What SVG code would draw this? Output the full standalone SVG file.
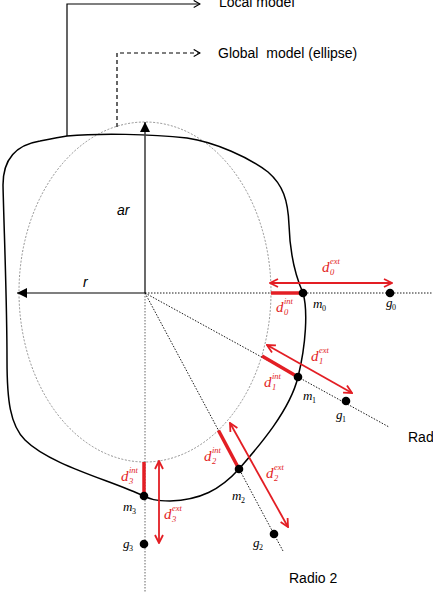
<svg xmlns="http://www.w3.org/2000/svg" width="433" height="592" viewBox="0 0 433 592">
<style>
.lbl{font-family:"Liberation Sans",Arial,sans-serif;font-size:14px;fill:#000}
.m{font-family:"Liberation Serif","Times New Roman",serif;font-style:italic;font-size:13px;fill:#000}
.sub{font-family:"Liberation Serif","Times New Roman",serif;font-size:8px;fill:#000}
.d{font-family:"Liberation Serif","Times New Roman",serif;font-style:italic;font-size:15px;fill:#e31e24}
.ds{font-family:"Liberation Serif","Times New Roman",serif;font-style:italic;font-size:8.5px;fill:#e31e24}
.dot{fill:#000}
.radial{stroke:#000;stroke-width:0.9;stroke-dasharray:1.5 1.5;fill:none}
.thick{stroke:#e31e24;stroke-width:3.5;fill:none}
.rarrow{stroke:#e31e24;stroke-width:1.8;fill:none;marker-start:url(#rh);marker-end:url(#rh)}
</style>
<defs>
<marker id="rh" viewBox="0 0 10 10" refX="9" refY="5" markerWidth="10" markerHeight="10" markerUnits="userSpaceOnUse" orient="auto-start-reverse">
<path d="M1,1 L9,5 L1,9" fill="none" stroke="#e31e24" stroke-width="1.8"/>
</marker>
<marker id="bh" viewBox="0 0 10 10" refX="9" refY="5" markerWidth="9" markerHeight="9" markerUnits="userSpaceOnUse" orient="auto">
<path d="M2,1 L9,5 L2,9" fill="none" stroke="#000" stroke-width="1.3"/>
</marker>
<marker id="fh" viewBox="0 0 10 10" refX="10" refY="5" markerWidth="10" markerHeight="10" markerUnits="userSpaceOnUse" orient="auto">
<path d="M0,0 L10,5 L0,10 Z" fill="#000"/>
</marker>
</defs>
<rect width="433" height="592" fill="#fff"/>
<g id="global-model">
<ellipse cx="145" cy="292" rx="126" ry="170" fill="none" stroke="#777" stroke-width="0.8" stroke-dasharray="2 1.6"/>
</g>
<g id="local-model">
<path d="M67,136 C100,133 150,134 187,138 C215,142 250,158 268,172 C283,185 288,200 289,225 C290,255 295,275 303,293 C308,310 306,345 298,377 C290,410 260,445 239,469 C220,490 200,500 170,501 C155,501 150,499 144,496 C110,480 50,465 25,440 C10,425 7,400 7,360 C7,300 4,230 3,185 C3,160 15,145 40,141 C50,139 60,137 67,136 Z" fill="none" stroke="#000" stroke-width="1.5"/>
</g>
<g id="connectors">
<polyline points="67,136 67,4 200,4" fill="none" stroke="#000" stroke-width="1.2" marker-end="url(#bh)"/>
<polyline points="117,127 117,53 200,53" fill="none" stroke="#000" stroke-width="1.2" stroke-dasharray="4 3" marker-end="url(#bh)"/>
<line x1="145" y1="293" x2="145" y2="122" stroke="#444" stroke-width="1.6" marker-end="url(#fh)"/>
<line x1="145" y1="293" x2="17" y2="293" stroke="#000" stroke-width="1.2" marker-end="url(#fh)"/>
<line x1="145" y1="293" x2="433" y2="293" class="radial"/>
<line x1="145" y1="293" x2="145" y2="592" stroke="#555" stroke-width="0.9" stroke-dasharray="1.5 1.5"/>
<line x1="145" y1="293" x2="389" y2="427" class="radial"/>
<line x1="145" y1="293" x2="283" y2="551" class="radial"/>
<line x1="271" y1="293" x2="303" y2="293" class="thick"/>
<line x1="262" y1="356" x2="298" y2="377" class="thick"/>
<line x1="218.5" y1="430.5" x2="239" y2="469" class="thick"/>
<line x1="144" y1="462" x2="144" y2="496" class="thick"/>
<line x1="270" y1="283" x2="392" y2="283" class="rarrow"/>
<line x1="267" y1="345" x2="352" y2="393" class="rarrow"/>
<line x1="230" y1="423" x2="288" y2="527" class="rarrow"/>
<line x1="159" y1="461" x2="159" y2="543" class="rarrow"/>
</g>
<g id="points">
<circle class="dot" cx="303" cy="293" r="4.3"/>
<circle class="dot" cx="390" cy="293" r="4.3"/>
<circle class="dot" cx="298" cy="377" r="4.3"/>
<circle class="dot" cx="346" cy="401" r="4.3"/>
<circle class="dot" cx="239" cy="469" r="4.3"/>
<circle class="dot" cx="274" cy="534" r="4.3"/>
<circle class="dot" cx="144" cy="496" r="4.3"/>
<circle class="dot" cx="144" cy="544" r="4.3"/>
</g>
<g id="texts">
<text class="lbl" x="219" y="7">Local model</text>
<text class="lbl" x="218" y="58" xml:space="preserve">Global  model (ellipse)</text>
<text class="lbl" x="408" y="442">Radio 1</text>
<text class="lbl" x="289" y="583">Radio 2</text>
<text class="lbl" x="117" y="215" font-style="italic">ar</text>
<text class="lbl" x="83" y="287" font-style="italic">r</text>
<text class="m" x="313" y="308">m</text><text class="sub" x="322" y="311">0</text>
<text class="m" x="386" y="307">g</text><text class="sub" x="392" y="310">0</text>
<text class="m" x="303" y="400">m</text><text class="sub" x="312" y="403">1</text>
<text class="m" x="336" y="419">g</text><text class="sub" x="342" y="422">1</text>
<text class="m" x="232" y="500">m</text><text class="sub" x="241" y="503">2</text>
<text class="m" x="253" y="547">g</text><text class="sub" x="259" y="550">2</text>
<text class="m" x="123" y="511">m</text><text class="sub" x="132" y="514">3</text>
<text class="m" x="123" y="548">g</text><text class="sub" x="129" y="551">3</text>
<text class="d" x="322" y="272">d</text><text class="ds" x="330" y="264">ext</text><text class="ds" x="330" y="275">0</text>
<text class="d" x="276" y="312">d</text><text class="ds" x="284" y="304">int</text><text class="ds" x="284" y="315">0</text>
<text class="d" x="311" y="361">d</text><text class="ds" x="319" y="353">ext</text><text class="ds" x="319" y="364">1</text>
<text class="d" x="264" y="387">d</text><text class="ds" x="272" y="379">int</text><text class="ds" x="272" y="390">1</text>
<text class="d" x="204" y="461">d</text><text class="ds" x="212" y="453">int</text><text class="ds" x="212" y="464">2</text>
<text class="d" x="266" y="478">d</text><text class="ds" x="274" y="470">ext</text><text class="ds" x="274" y="481">2</text>
<text class="d" x="121" y="481">d</text><text class="ds" x="129" y="473">int</text><text class="ds" x="129" y="484">3</text>
<text class="d" x="164" y="519">d</text><text class="ds" x="172" y="511">ext</text><text class="ds" x="172" y="522">3</text>
</g>
</svg>
